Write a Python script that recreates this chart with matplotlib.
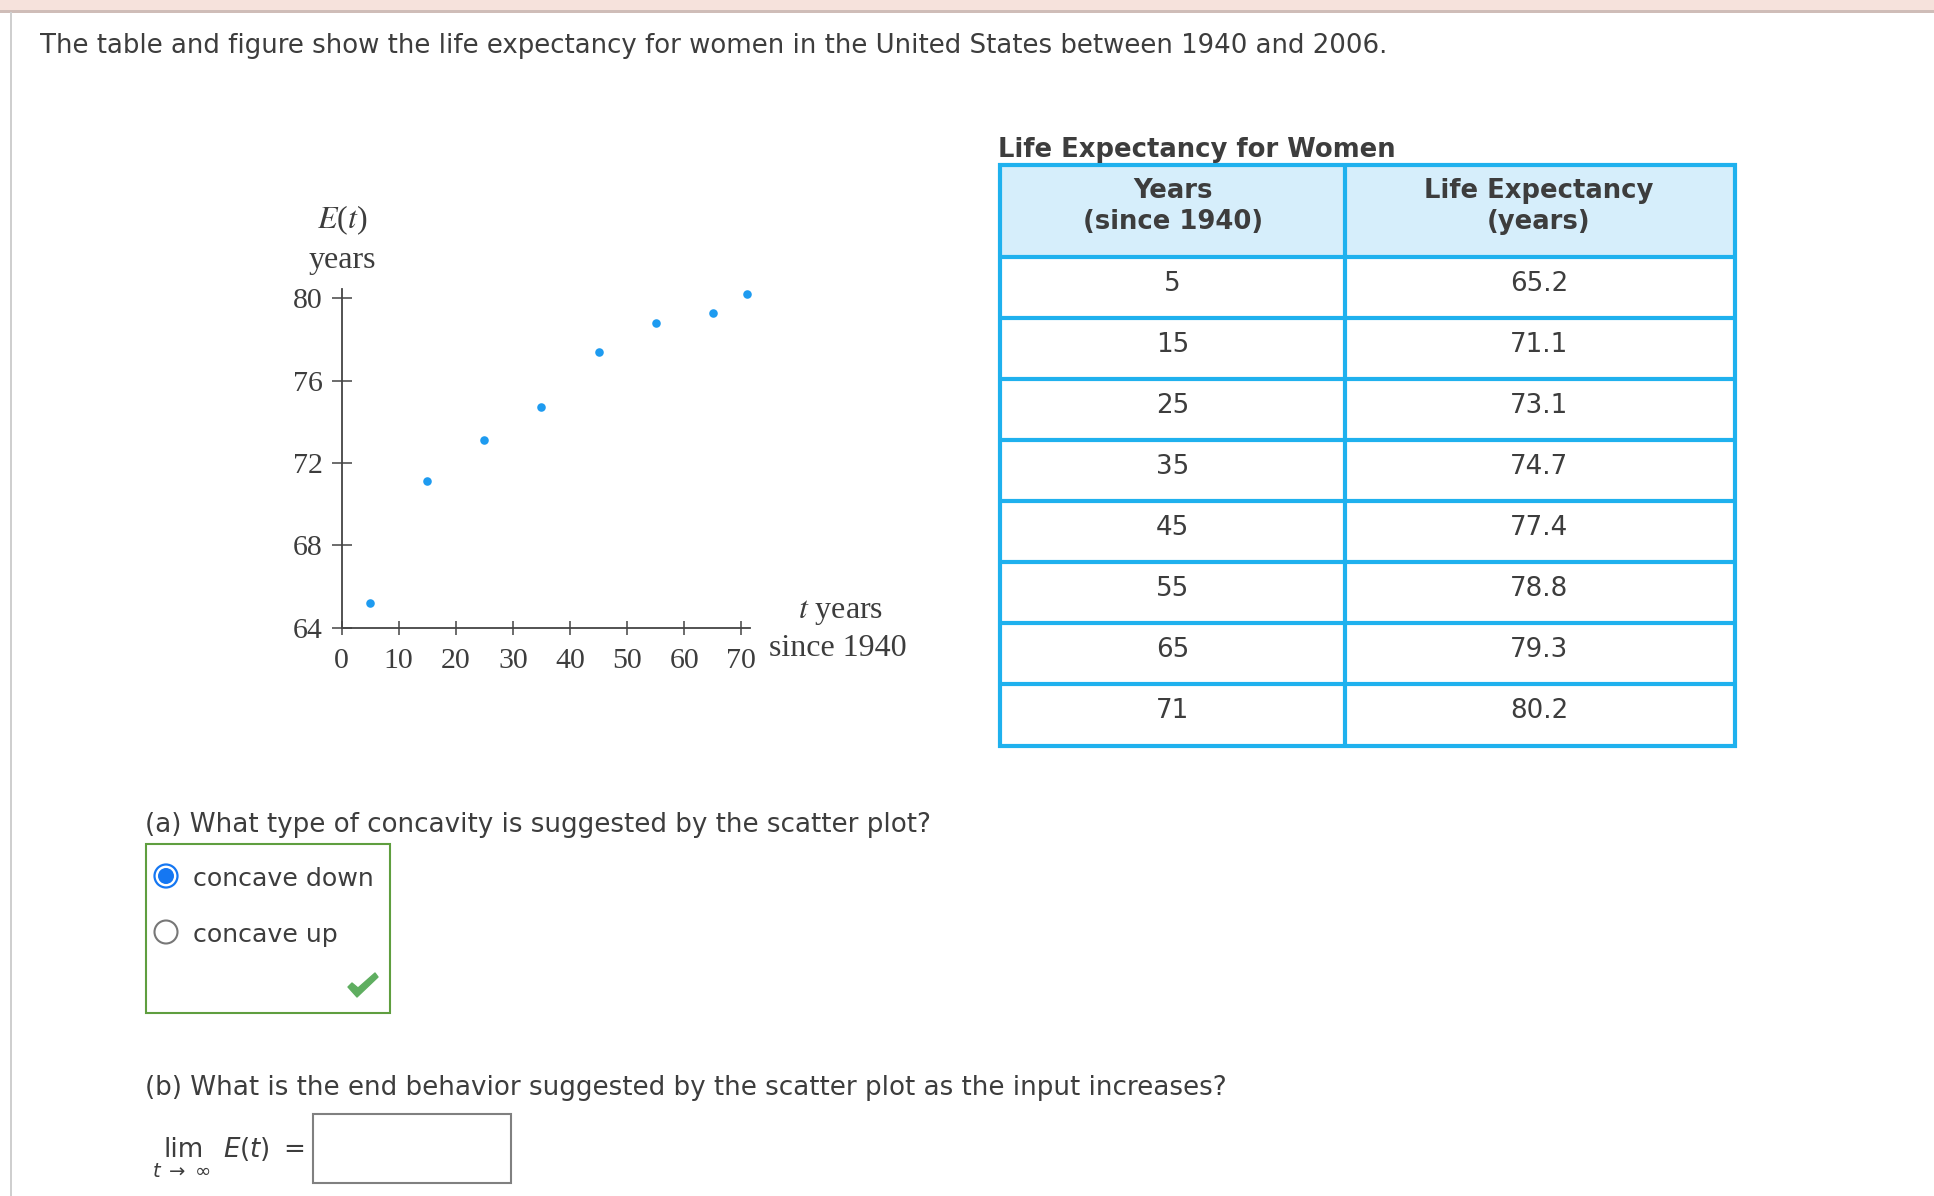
import matplotlib
matplotlib.use("Agg")
import matplotlib.pyplot as plt
from matplotlib.patches import Rectangle, Circle, Polygon

years = [5, 15, 25, 35, 45, 55, 65, 71]
life = [65.2, 71.1, 73.1, 74.7, 77.4, 78.8, 79.3, 80.2]
x_ticks = [0, 10, 20, 30, 40, 50, 60, 70]
y_ticks = [64, 68, 72, 76, 80]
life_labels = ["65.2", "71.1", "73.1", "74.7", "77.4", "78.8", "79.3", "80.2"]

W, H = 1934, 1196
TXT = "#3d3d3d"
BLUE = "#1fb1ee"
SANS = "DejaVu Sans"
SERIF = "Liberation Serif"
FS = 18.8
FB = 18.6

fig = plt.figure(figsize=(W / 100, H / 100), dpi=100, facecolor="white")
bg = fig.add_axes([0, 0, 1, 1])
bg.set_xlim(0, W)
bg.set_ylim(H, 0)
bg.axis("off")


def t(x, y, s, size=FS, ha="left", **kw):
    kw.setdefault("family", SANS)
    kw.setdefault("color", TXT)
    bg.text(x, y, s, fontsize=size, ha=ha, va="baseline", **kw)


# page chrome
bg.add_patch(Rectangle((0, 0), W, 10, fc="#f6e2dc", ec="none"))
bg.add_patch(Rectangle((0, 10), W, 2.5, fc="#cfbdb8", ec="none"))
bg.add_patch(Rectangle((10, 12), 2, H, fc="#cfcfcf", ec="none"))

t(40, 53, "The table and figure show the life expectancy for women in the United States between 1940 and 2006.", size=18.75)

# scatter plot
x0, ux = 341.6, 5.709
y0, uy = 627.6, 20.58
xmax, ymax = 71.6, 80.45
ax = fig.add_axes([x0 / W, 1 - y0 / H, xmax * ux / W, (ymax - 64) * uy / H])
ax.set_xlim(0, xmax)
ax.set_ylim(64, ymax)
ax.patch.set_alpha(0)
for s in ("top", "right"):
    ax.spines[s].set_visible(False)
for s in ("left", "bottom"):
    ax.spines[s].set_linewidth(1.3)
    ax.spines[s].set_color("#444444")
ax.scatter(years, life, s=38, color="#1e9bf0", linewidths=0, clip_on=False, zorder=3)
ax.set_xticks(x_ticks)
ax.set_yticks(y_ticks)
ax.tick_params(axis="x", direction="inout", length=10, width=1.1, color="#444444",
               labelsize=21.5, labelcolor=TXT, pad=10)
ax.tick_params(axis="y", direction="inout", length=15, width=1.1, color="#444444",
               labelsize=21.5, labelcolor=TXT, pad=6)
for lab in ax.get_xticklabels() + ax.get_yticklabels():
    lab.set_family(SERIF)

t(342, 228, r"$E$($t$)", size=23, ha="center", family=SERIF, math_fontfamily="stix")
t(342, 268, "years", size=23, ha="center", family=SERIF)
t(841, 618, r"$t$ years", size=23, ha="center", family=SERIF, math_fontfamily="stix")
t(838, 656, "since 1940", size=23, ha="center", family=SERIF)

# table
tl, tm, tr = 999.5, 1345, 1735
top, head, row_h = 165, 256.7, 61.1
n = len(years)
bottom = head + row_h * n
bg.add_patch(Rectangle((tl, top), tr - tl, head - top, fc="#d6eefb", ec="none"))
bg.vlines([tl, tm, tr], top - 2, bottom + 2, color=BLUE, lw=3.0)
bg.hlines([top, head] + [head + row_h * (i + 1) for i in range(n)], tl - 2, tr + 2, color=BLUE, lw=3.0)
cl, cr = (tl + tm) / 2 + 0.5, 1539
t(tl - 2, 157, "Life Expectancy for Women", size=FB, weight="bold")
t(cl, 198, "Years", size=FB, ha="center", weight="bold")
t(cl, 229, "(since 1940)", size=FB, ha="center", weight="bold")
t(cr, 198, "Life Expectancy", size=FB, ha="center", weight="bold")
t(cr, 229, "(years)", size=FB, ha="center", weight="bold")
for i, (a, b) in enumerate(zip(years, life_labels)):
    y = 290.7 + row_h * i
    t(cl, y, str(a), ha="center")
    t(cr, y, b, ha="center")

# part (a)
t(145, 832, "(a) What type of concavity is suggested by the scatter plot?")
bg.add_patch(Rectangle((146, 844), 244, 169, fc="none", ec="#5f9e3f", lw=1.5))
bg.add_patch(Circle((166, 876), 11.5, fc="white", ec="#1577f2", lw=1.6))
bg.add_patch(Circle((166, 876), 8, fc="#1577f2", ec="none"))
bg.add_patch(Circle((166, 932), 11.5, fc="white", ec="#777777", lw=1.5))
t(193, 886, "concave down", size=18.2)
t(193, 942, "concave up", size=18.2)
bg.add_patch(Polygon([(348, 987), (357, 997), (378, 977), (375, 973), (358, 988), (352, 983)],
                     closed=True, fc="#5fae60", ec="#5fae60", lw=1.0, joinstyle="round"))

# part (b)
t(145, 1095, "(b) What is the end behavior suggested by the scatter plot as the input increases?")
t(164, 1157, "lim")
t(152, 1177, r"$t\;\rightarrow\;\infty$", size=14, math_fontfamily="dejavusans")
t(223, 1157, r"$E$($t$)", math_fontfamily="dejavusans")
t(283, 1157, "=")
bg.add_patch(Rectangle((313, 1114), 198, 69, fc="white", ec="#808080", lw=1.5))

fig.savefig("out.png", dpi=100, facecolor="white")
